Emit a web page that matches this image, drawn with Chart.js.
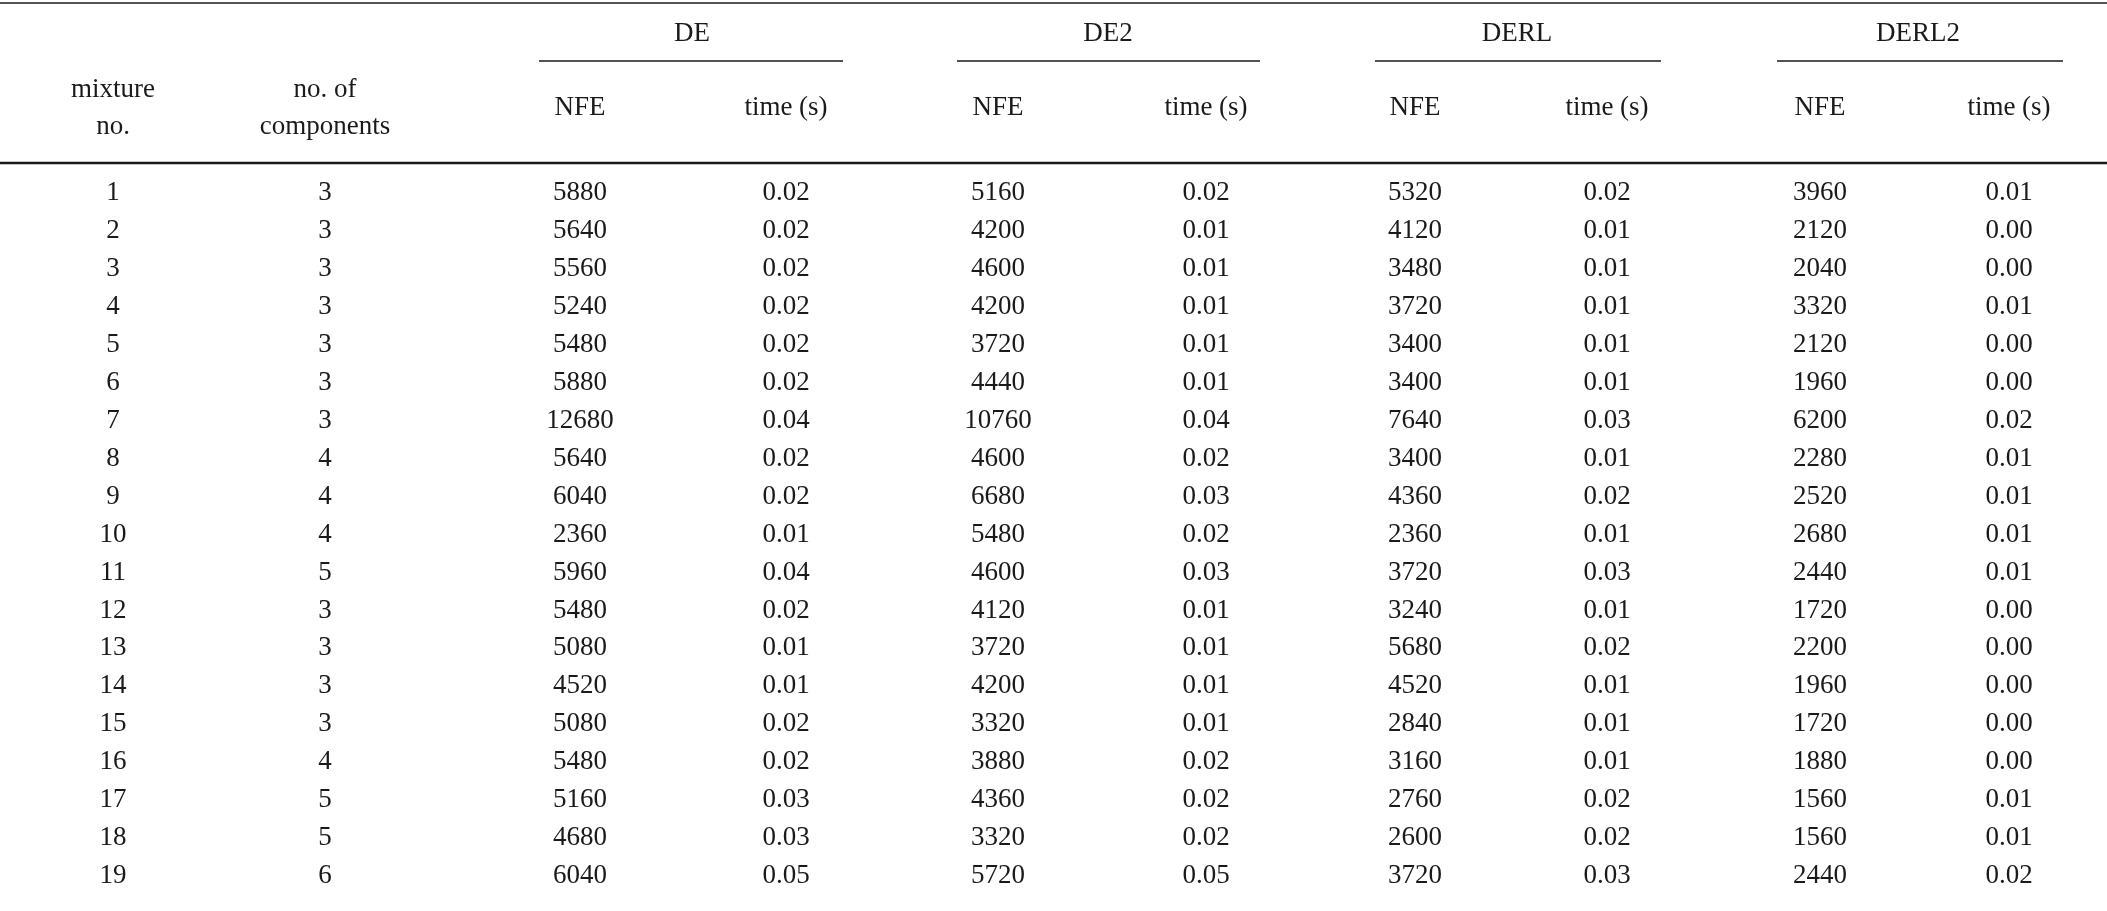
<!DOCTYPE html>
<html>
<head>
<meta charset="utf-8">
<script src="https://cdn.jsdelivr.net/npm/chart.js@4"></script>
<style>
  html, body { margin: 0; padding: 0; background: #fff; }
  #wrap { width: 2107px; height: 911px; }
</style>
</head>
<body>
<div id="wrap"><canvas id="tbl"></canvas></div>
<script>
// ── Table data ──
const groups = ['DE', 'DE2', 'DERL', 'DERL2'];
const subHeaders = ['NFE', 'time (s)'];
const mixtureNo = [1, 2, 3, 4, 5, 6, 7, 8, 9, 10, 11, 12, 13, 14, 15, 16, 17, 18, 19];
const components = [3, 3, 3, 3, 3, 3, 3, 4, 4, 4, 5, 3, 3, 3, 3, 4, 5, 5, 6];
const deNFE = [5880, 5640, 5560, 5240, 5480, 5880, 12680, 5640, 6040, 2360, 5960, 5480, 5080, 4520, 5080, 5480, 5160, 4680, 6040];
const deTime = ['0.02', '0.02', '0.02', '0.02', '0.02', '0.02', '0.04', '0.02', '0.02', '0.01', '0.04', '0.02', '0.01', '0.01', '0.02', '0.02', '0.03', '0.03', '0.05'];
const de2NFE = [5160, 4200, 4600, 4200, 3720, 4440, 10760, 4600, 6680, 5480, 4600, 4120, 3720, 4200, 3320, 3880, 4360, 3320, 5720];
const de2Time = ['0.02', '0.01', '0.01', '0.01', '0.01', '0.01', '0.04', '0.02', '0.03', '0.02', '0.03', '0.01', '0.01', '0.01', '0.01', '0.02', '0.02', '0.02', '0.05'];
const derlNFE = [5320, 4120, 3480, 3720, 3400, 3400, 7640, 3400, 4360, 2360, 3720, 3240, 5680, 4520, 2840, 3160, 2760, 2600, 3720];
const derlTime = ['0.02', '0.01', '0.01', '0.01', '0.01', '0.01', '0.03', '0.01', '0.02', '0.01', '0.03', '0.01', '0.02', '0.01', '0.01', '0.01', '0.02', '0.02', '0.03'];
const derl2NFE = [3960, 2120, 2040, 3320, 2120, 1960, 6200, 2280, 2520, 2680, 2440, 1720, 2200, 1960, 1720, 1880, 1560, 1560, 2440];
const derl2Time = ['0.01', '0.00', '0.00', '0.01', '0.00', '0.00', '0.02', '0.01', '0.01', '0.01', '0.01', '0.00', '0.00', '0.00', '0.00', '0.00', '0.01', '0.01', '0.02'];

const columns = [mixtureNo, components, deNFE, deTime, de2NFE, de2Time, derlNFE, derlTime, derl2NFE, derl2Time];

// ── Layout (scale units = pixels of the page) ──
const colX = [113, 325, 580, 786, 998, 1206, 1415, 1607, 1820, 2009];
const groupX = [692, 1108, 1517, 1918];
const groupLine = [[539, 843], [957, 1260], [1375, 1661], [1777, 2063]];
const rowY0 = 193, rowStep = 37.95;
const font = '27px "Liberation Serif", "DejaVu Serif", serif';

const tablePlugin = {
  id: 'tablePlugin',
  afterDraw(chart) {
    const ctx = chart.ctx;
    const x = v => chart.scales.x.getPixelForValue(v);
    const y = v => chart.scales.y.getPixelForValue(v);
    ctx.save();
    ctx.fillStyle = '#1a1a1a';
    ctx.strokeStyle = '#1a1a1a';
    ctx.font = font;
    ctx.textAlign = 'center';
    ctx.textBaseline = 'middle';

    // rules
    ctx.lineWidth = 1.5;
    ctx.beginPath(); ctx.moveTo(x(0), y(3)); ctx.lineTo(x(2107), y(3)); ctx.stroke();
    ctx.lineWidth = 2.5;
    ctx.beginPath(); ctx.moveTo(x(0), y(163)); ctx.lineTo(x(2107), y(163)); ctx.stroke();
    ctx.lineWidth = 1.5;
    groupLine.forEach(([a, b]) => {
      ctx.beginPath(); ctx.moveTo(x(a), y(61)); ctx.lineTo(x(b), y(61)); ctx.stroke();
    });

    // headers
    groups.forEach((g, i) => ctx.fillText(g, x(groupX[i]), y(34)));
    ctx.fillText('mixture', x(colX[0]), y(90));
    ctx.fillText('no.', x(colX[0]), y(127));
    ctx.fillText('no. of', x(colX[1]), y(90));
    ctx.fillText('components', x(colX[1]), y(127));
    for (let i = 2; i < colX.length; i++) {
      ctx.fillText(subHeaders[(i - 2) % 2], x(colX[i]), y(108));
    }

    // body
    columns.forEach((col, c) => {
      col.forEach((v, r) => ctx.fillText(String(v), x(colX[c]), y(rowY0 + r * rowStep)));
    });
    ctx.restore();
  }
};

new Chart(document.getElementById('tbl'), {
  type: 'scatter',
  data: { datasets: [{ data: [], pointRadius: 0 }] },
  options: {
    responsive: true,
    maintainAspectRatio: false,
    animation: false,
    layout: { padding: 0 },
    plugins: { legend: { display: false }, tooltip: { enabled: false } },
    scales: {
      x: { type: 'linear', min: 0, max: 2107, display: false },
      y: { type: 'linear', min: 0, max: 911, reverse: true, display: false }
    }
  },
  plugins: [tablePlugin]
});
</script>
</body>
</html>
